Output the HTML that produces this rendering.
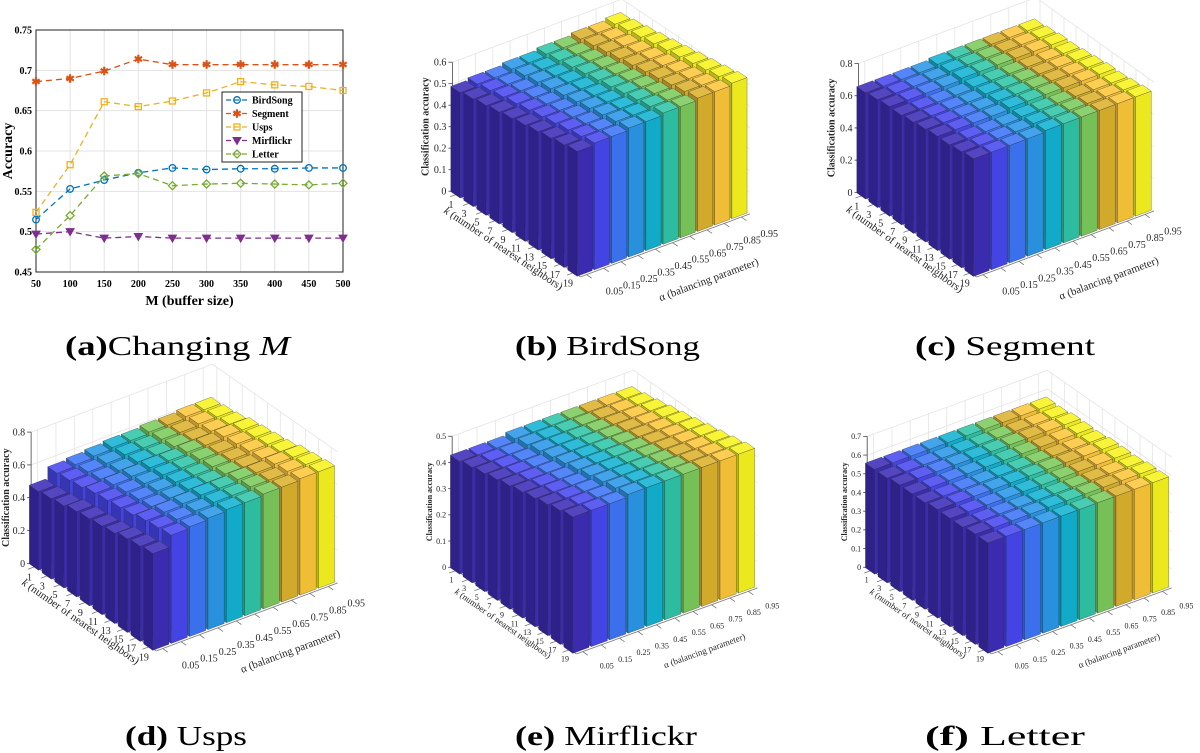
<!DOCTYPE html>
<html><head><meta charset="utf-8"><style>
html,body{margin:0;padding:0;background:#fff;}
svg{display:block;}
text{font-family:"Liberation Serif",serif;}
</style></head><body>
<svg id="fig" width="1200" height="753" viewBox="0 0 1200 753" xmlns="http://www.w3.org/2000/svg">
<g id="panelA"></g>
<g id="panelB"></g>
<g id="panelC"></g>
<g id="panelD"></g>
<g id="panelE"></g>
<g id="panelF"></g>
<g font-size="27">
<text x="65" y="355" textLength="225" lengthAdjust="spacingAndGlyphs"><tspan font-weight="bold">(a)</tspan>Changing <tspan font-style="italic">M</tspan></text>
<text x="515" y="355" textLength="185" lengthAdjust="spacingAndGlyphs"><tspan font-weight="bold">(b)</tspan> BirdSong</text>
<text x="915" y="355" textLength="180" lengthAdjust="spacingAndGlyphs"><tspan font-weight="bold">(c)</tspan> Segment</text>
<text x="125" y="745" textLength="122" lengthAdjust="spacingAndGlyphs"><tspan font-weight="bold">(d)</tspan> Usps</text>
<text x="515" y="745" textLength="182" lengthAdjust="spacingAndGlyphs"><tspan font-weight="bold">(e)</tspan> Mirflickr</text>
<text x="925" y="745" textLength="160" lengthAdjust="spacingAndGlyphs"><tspan font-weight="bold">(f)</tspan> Letter</text>
</g>
</svg>
<script>
// ---------- Panel (a) data ----------
const mValues = [50,100,150,200,250,300,350,400,450,500];
const yTicksA = [0.45,0.5,0.55,0.6,0.65,0.7,0.75];
const yTickLabelsA = ["0.45","0.5","0.55","0.6","0.65","0.7","0.75"];
const seriesNames = ["BirdSong","Segment","Usps","Mirflickr","Letter"];
const birdSong = [0.515,0.553,0.564,0.573,0.579,0.577,0.578,0.578,0.579,0.579];
const segment = [0.686,0.690,0.699,0.714,0.707,0.707,0.707,0.707,0.707,0.707];
const usps = [0.524,0.583,0.661,0.655,0.662,0.672,0.686,0.682,0.680,0.675];
const mirflickr = [0.497,0.500,0.492,0.494,0.492,0.492,0.492,0.492,0.492,0.492];
const letter = [0.478,0.520,0.569,0.572,0.557,0.559,0.560,0.559,0.558,0.560];

// ---------- 3D panels data ----------
const alphaLabels = ["0.05","0.15","0.25","0.35","0.45","0.55","0.65","0.75","0.85","0.95"];
const kLabels = ["1","3","5","7","9","11","13","15","17","19"];
const birdAlpha = [0.49,0.50,0.50,0.51,0.51,0.52,0.52,0.53,0.53,0.54];
const birdK = [0.49,0.50,0.51,0.52,0.53,0.54,0.55,0.56,0.57,0.58];
const segAlpha = [0.66,0.66,0.66,0.66,0.67,0.67,0.67,0.67,0.67,0.67];
const segK = [0.66,0.67,0.68,0.68,0.69,0.70,0.71,0.71,0.72,0.73];
const uspsAlpha = [0.48,0.55,0.56,0.57,0.58,0.58,0.59,0.59,0.60,0.60];
const uspsK = [0.48,0.49,0.50,0.52,0.53,0.54,0.55,0.57,0.58,0.59];
const mirAlpha = [0.43,0.43,0.43,0.44,0.44,0.44,0.44,0.44,0.44,0.44];
const mirK = [0.43,0.44,0.45,0.46,0.47,0.48,0.49,0.50,0.51,0.52];
const letAlpha = [0.56,0.56,0.56,0.56,0.56,0.56,0.56,0.56,0.56,0.56];
const letK = [0.56,0.56,0.57,0.57,0.57,0.58,0.58,0.58,0.59,0.59];
const zTicksB = [0,0.1,0.2,0.3,0.4,0.5,0.6];
const zTicksC = [0,0.2,0.4,0.6,0.8];
const zTicksD = [0,0.2,0.4,0.6,0.8];
const zTicksE = [0,0.1,0.2,0.3,0.4,0.5];
const zTicksF = [0,0.1,0.2,0.3,0.4,0.5,0.6,0.7];

const NS = "http://www.w3.org/2000/svg";
function mk(tag, parent, attrs){
  const e = document.createElementNS(NS, tag);
  for (const k in attrs) e.setAttribute(k, attrs[k]);
  parent.appendChild(e);
  return e;
}

// ---------- draw panel (a) ----------
(function(){
  const g = document.getElementById('panelA');
  const x0=36, x1=343, y0=272, y1=30;
  const xs = v => x0 + (v-50)/(500-50)*(x1-x0);
  const ys = v => y0 - (v-0.45)/(0.75-0.45)*(y0-y1);
  mk('rect', g, {x:x0,y:y1,width:x1-x0,height:y0-y1,fill:'#fff'});
  mValues.forEach(m=>{
    const l = mk('line', g, {x1:xs(m),x2:xs(m),y1:y1,y2:y0,stroke:'#e3e3e3','stroke-width':1});
    
    
    const t = mk('text', g, {x:xs(m),y:y0+15,'text-anchor':'middle','font-size':10,'font-weight':'bold'});
    t.textContent = m;
    
    
  });
  yTicksA.forEach((v,i)=>{
    const l = mk('line', g, {x1:x0,x2:x1,y1:ys(v),y2:ys(v),stroke:'#e3e3e3','stroke-width':1});
    
    
    const t = mk('text', g, {x:x0-4,y:ys(v)+3.5,'text-anchor':'end','font-size':10,'font-weight':'bold'});
    t.textContent = yTickLabelsA[i];
    
    
  });
  const box = mk('rect', g, {x:x0,y:y1,width:x1-x0,height:y0-y1,fill:'none',stroke:'#222','stroke-width':1});
  
  
  const yt = mk('text', g, {x:0,y:0,'text-anchor':'middle','font-size':14,'font-weight':'bold',transform:`translate(12,${(y0+y1)/2}) rotate(-90)`});
  yt.textContent='Accuracy';
  
  
  const xt = mk('text', g, {x:(x0+x1)/2,y:305,'text-anchor':'middle','font-size':14,'font-weight':'bold'});
  xt.textContent='M (buffer size)';
  
  
  const allSeries=[birdSong,segment,usps,mirflickr,letter];
  const colors=['#0072BD','#D95319','#EDB120','#7E2F8E','#77AC30'];
  const markers=['circle','star','square','tri','diamond'];
  function marker(parent,type,x,y,c){
    let e;
    if(type==='circle') e=mk('circle',parent,{cx:x,cy:y,r:3.3,fill:'none',stroke:c,'stroke-width':1.3});
    else if(type==='star') e=mk('text',parent,{x:x,y:y+4,'text-anchor':'middle','font-size':11,fill:c,'font-weight':'bold'});
    else if(type==='square') e=mk('rect',parent,{x:x-3,y:y-3,width:6,height:6,fill:'none',stroke:c,'stroke-width':1.3});
    else if(type==='tri') e=mk('polygon',parent,{points:`${x-4},${y-3} ${x+4},${y-3} ${x},${y+4}`,fill:c,stroke:c});
    else e=mk('polygon',parent,{points:`${x},${y-4} ${x+4},${y} ${x},${y+4} ${x-4},${y}`,fill:'none',stroke:c,'stroke-width':1.3});
    if(type==='star') e.textContent='✱';
    return e;
  }
  allSeries.forEach((s,si)=>{
    const sg = mk('g', g, {});
    
    
    const pts = s.map((v,i)=>`${xs(mValues[i])},${ys(v)}`).join(' ');
    const pl = mk('polyline', sg, {points:pts,fill:'none',stroke:colors[si],'stroke-width':1.3,'stroke-dasharray':'6,4'});
    
    
    s.forEach((v,i)=>{
      const m = marker(sg, markers[si], xs(mValues[i]), ys(v), colors[si]);
      
      
    });
  });
  const lg = mk('g', g, {});
  
  
  mk('rect', lg, {x:222,y:92,width:80,height:70,fill:'#fff',stroke:'#222','stroke-width':1});
  seriesNames.forEach((n,i)=>{
    const y = 100 + i*13.5;
    const eg = mk('g', lg, {});
    
    
    mk('line', eg, {x1:226,x2:248,y1:y,y2:y,stroke:colors[i],'stroke-width':1.3,'stroke-dasharray':'5,3'});
    marker(eg, markers[i], 237, y, colors[i]);
    const t = mk('text', eg, {x:252,y:y+3.5,'font-size':10,'font-weight':'bold'});
    t.textContent = n;
  });
})();

const barColors = ['#3d2db8','#4848f0','#3d76f8','#2a98e8','#12b3d4','#30c6a8','#7ccb5c','#dcb32e','#fdc73a','#f7f41e'];
function shade(hex, f){
  let r=parseInt(hex.slice(1,3),16),g=parseInt(hex.slice(3,5),16),b=parseInt(hex.slice(5,7),16);
  if(f>0){r+= (255-r)*f; g+=(255-g)*f; b+=(255-b)*f;}
  else {r*=1+f; g*=1+f; b*=1+f;}
  return `rgb(${Math.round(r)},${Math.round(g)},${Math.round(b)})`;
}

function draw3D(id, cfg, accA, accK, zTicks){
  const g = document.getElementById(id);
  const {O,ua,uk,zs,fs} = cfg;
  const zmax = zTicks[zTicks.length-1];
  const P=(a,j,z)=>[O[0]+a*ua[0]+j*uk[0], O[1]+a*ua[1]+j*uk[1]-z*zs];
  const pts=arr=>arr.map(p=>p.join(',')).join(' ');
  const lo=-0.35, hi=9.5;
  const SANS='"Liberation Sans",sans-serif';
  const wg = mk('g', g, {});
  
  
  zTicks.forEach(z=>{
    mk('polyline', wg, {points:pts([P(hi,hi,z),P(hi,lo,z),P(lo,lo,z)]),fill:'none',stroke:'#e4e4e4','stroke-width':0.8});
  });
  for(let i=0;i<10;i++){
    mk('line', wg, {x1:P(i,lo,0)[0],y1:P(i,lo,0)[1],x2:P(i,lo,zmax)[0],y2:P(i,lo,zmax)[1],stroke:'#e4e4e4','stroke-width':0.8});
    mk('line', wg, {x1:P(hi,i,0)[0],y1:P(hi,i,0)[1],x2:P(hi,i,zmax)[0],y2:P(hi,i,zmax)[1],stroke:'#e4e4e4','stroke-width':0.8});
  }
  const za = mk('g', g, {});
  
  
  const b0=P(lo,lo,0), b1=P(lo,lo,zmax);
  mk('line', za, {x1:b0[0],y1:b0[1],x2:b1[0],y2:b1[1],stroke:'#444','stroke-width':0.8});
  zTicks.forEach(z=>{
    const p=P(lo,lo,z);
    mk('line', za, {x1:p[0]-4,y1:p[1],x2:p[0],y2:p[1],stroke:'#444','stroke-width':0.8});
    const t=mk('text', za, {x:p[0]-6,y:p[1]+fs*0.35,'text-anchor':'end','font-size':fs,fill:'#262626','font-family':SANS});
    t.textContent = z===0?'0':String(z);
    
    
  });
  const zt = mk('text', za, {'text-anchor':'middle','font-size':fs,'font-weight':'bold',fill:'#262626',transform:`translate(${b0[0]-cfg.ztOff},${(b0[1]+b1[1])/2}) rotate(-90)`});
  zt.textContent='Classification accuracy';
  
  
  const ka = mk('g', g, {});
  
  
  mk('line', ka, {x1:P(lo,lo,0)[0],y1:P(lo,lo,0)[1],x2:P(lo,hi,0)[0],y2:P(lo,hi,0)[1],stroke:'#777','stroke-width':0.8});
  kLabels.forEach((lab,j)=>{
    const p=P(lo,j,0);
    mk('line', ka, {x1:p[0],y1:p[1],x2:p[0]-ua[0]*0.4,y2:p[1]-ua[1]*0.4,stroke:'#777','stroke-width':0.8});
    const t=mk('text', ka, {x:p[0]+cfg.kOff[0],y:p[1]+cfg.kOff[1],'text-anchor':'middle','font-size':fs,fill:'#262626','font-family':SANS});
    t.textContent=lab;
    
    
  });
  const angK = Math.atan2(uk[1],uk[0])*180/Math.PI;
  const kc=P(lo,4.5,0);
  const kt=mk('text', ka, {'text-anchor':'middle','font-size':fs+1,fill:'#262626',transform:`translate(${kc[0]+cfg.ktOff[0]},${kc[1]+cfg.ktOff[1]}) rotate(${angK})`});
  kt.innerHTML='<tspan font-style="italic">k</tspan> (number of nearest neighbors)';
  
  
  const aa = mk('g', g, {});
  
  
  mk('line', aa, {x1:P(lo,hi,0)[0],y1:P(lo,hi,0)[1],x2:P(hi,hi,0)[0],y2:P(hi,hi,0)[1],stroke:'#777','stroke-width':0.8});
  alphaLabels.forEach((lab,i)=>{
    const p=P(i,hi,0);
    mk('line', aa, {x1:p[0],y1:p[1],x2:p[0]+uk[0]*0.4,y2:p[1]+uk[1]*0.4,stroke:'#777','stroke-width':0.8});
    const t=mk('text', aa, {x:p[0]+cfg.aOff[0],y:p[1]+cfg.aOff[1],'text-anchor':'middle','font-size':fs,fill:'#262626','font-family':SANS});
    t.textContent=lab;
    
    
  });
  const angA = Math.atan2(ua[1],ua[0])*180/Math.PI;
  const ac=P(4.5,hi,0);
  const at=mk('text', aa, {'text-anchor':'middle','font-size':fs+1,fill:'#262626',transform:`translate(${ac[0]+cfg.atOff[0]},${ac[1]+cfg.atOff[1]}) rotate(${angA})`});
  at.textContent='α (balancing parameter)';
  
  
  const bg = mk('g', g, {});
  
  
  const order=[];
  for(let i=0;i<10;i++) for(let j=0;j<10;j++) order.push([i,j]);
  order.sort((p,q)=>(p[1]-p[0])-(q[1]-q[0]));
  const da=0.44, dk=0.36;
  order.forEach(([i,j])=>{
    const h = accA[i] + accK[j] - accK[0];
    const c = barColors[i];
    const a0=i-da,a1=i+da,j0=j-dk,j1=j+dk;
    const bar = mk('g', bg, {});
    
    
    const st={stroke:'#2a2a2a','stroke-width':0.4,'stroke-opacity':0.7,'stroke-linejoin':'round'};
    mk('polygon', bar, Object.assign({points:pts([P(a0,j0,0),P(a0,j1,0),P(a0,j1,h),P(a0,j0,h)]),fill:shade(c,-0.25)},st));
    mk('polygon', bar, Object.assign({points:pts([P(a0,j1,0),P(a1,j1,0),P(a1,j1,h),P(a0,j1,h)]),fill:shade(c,-0.05)},st));
    mk('polygon', bar, Object.assign({points:pts([P(a0,j0,h),P(a1,j0,h),P(a1,j1,h),P(a0,j1,h)]),fill:shade(c,0.12)},st));
  });
}

draw3D('panelB',{O:[463,192],ua:[17.2,-6.4],uk:[13,8.7],zs:215,fs:10,ztOff:24,kOff:[-6,14],ktOff:[-14,18],aOff:[28,20],atOff:[46,37]},birdAlpha,birdK,zTicksB);
draw3D('panelC',{O:[869,193],ua:[18,-6.7],uk:[12,8.6],zs:161,fs:10,ztOff:24,kOff:[-6,14],ktOff:[-14,18],aOff:[28,20],atOff:[46,37]},segAlpha,segK,zTicksC);
draw3D('panelD',{O:[42,564],ua:[18.4,-6.9],uk:[12.7,8.9],zs:164,fs:10,ztOff:22,kOff:[-6,14],ktOff:[-14,18],aOff:[28,20],atOff:[46,37]},uspsAlpha,uspsK,zTicksD);
draw3D('panelE',{O:[463,568],ua:[18.4,-6.7],uk:[12.6,8.8],zs:262,fs:8,ztOff:20,kOff:[-5,12],ktOff:[-12,16],aOff:[24,17],atOff:[40,32]},mirAlpha,mirK,zTicksE);
draw3D('panelF',{O:[878,568],ua:[18.3,-6.7],uk:[12.6,8.8],zs:187,fs:8,ztOff:20,kOff:[-5,12],ktOff:[-12,16],aOff:[24,17],atOff:[40,32]},letAlpha,letK,zTicksF);
</script>
</body></html>
